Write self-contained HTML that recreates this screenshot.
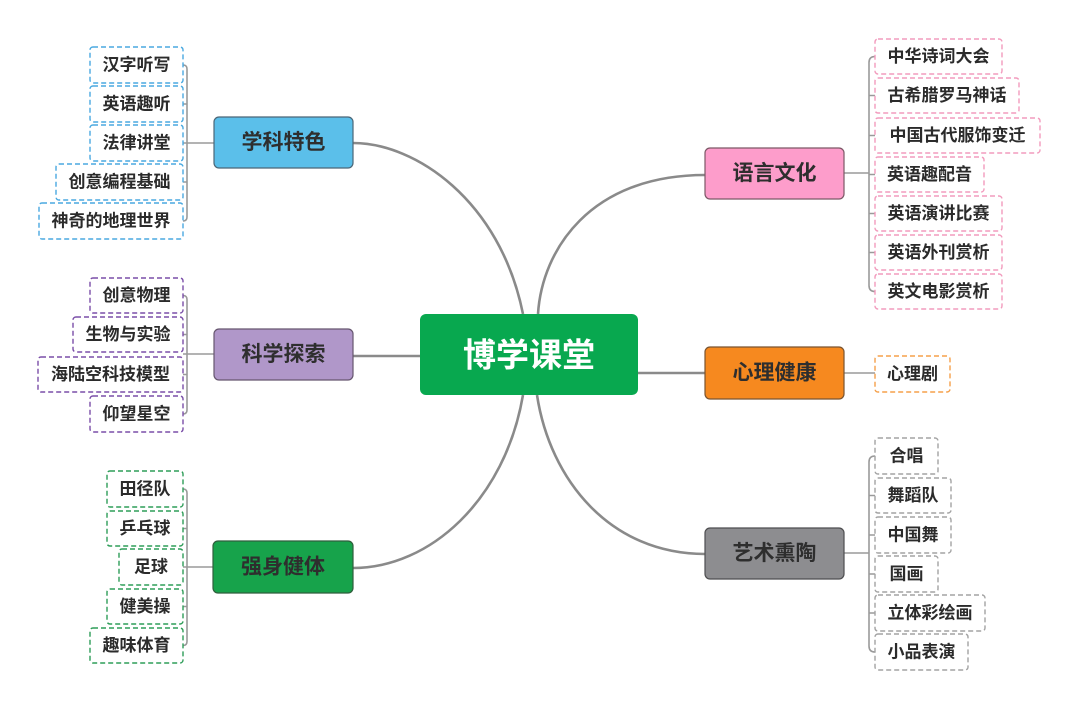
<!DOCTYPE html>
<html><head><meta charset="utf-8">
<style>
html,body{margin:0;padding:0;background:#fff;}
svg{display:block;}
text{font-family:"Liberation Sans","Noto Sans CJK SC",sans-serif;font-weight:bold;}
.s{font-size:17px;fill:#2b2b2b;}
.m{font-size:21px;fill:#2e2e2e;}
.ln{fill:none;stroke:#9a9a9a;stroke-width:1.6;}
.cv{fill:none;stroke:#8a8a8a;stroke-width:2.6;}
</style></head>
<body>
<svg width="1080" height="709" viewBox="0 0 1080 709" xmlns="http://www.w3.org/2000/svg">
<!-- main curves -->
<path class="cv" d="M353,143 C415,143 500,200 523,314"/>
<path class="cv" d="M705,175 C590,175 542,250 538,314"/>
<path class="cv" d="M523,395 C505,500 430,568 353,568"/>
<path class="cv" d="M537,395 C550,480 610,554 705,554"/>
<path class="cv" d="M353,356 L420,356"/>
<path class="cv" d="M638,373 L705,373"/>

<!-- left brackets -->
<path class="ln" d="M183,65 Q187,65 187,69 L187,217 Q187,221 183,221 M183,104 L187,104 M183,182 L187,182 M183,143 L214,143"/>
<path class="ln" d="M183,295.5 Q187,295.5 187,299.5 L187,410 Q187,414 183,414 M183,334.5 L187,334.5 M183,374.5 L187,374.5 M183,354 L214,354"/>
<path class="ln" d="M183,489 Q187,489 187,493 L187,641.5 Q187,645.5 183,645.5 M183,528.5 L187,528.5 M183,606.5 L187,606.5 M183,567 L213,567"/>
<!-- right brackets -->
<path class="ln" d="M875,56.5 Q869,56.5 869,62.5 L869,285.5 Q869,291.5 875,291.5 M869,95.5 L875,95.5 M869,135.5 L875,135.5 M869,174.5 L875,174.5 M869,213.5 L875,213.5 M869,252.5 L875,252.5 M844,173 L869,173"/>
<path class="ln" d="M844,373 L875,373"/>
<path class="ln" d="M875,456 Q869,456 869,462 L869,646 Q869,652 875,652 M869,495.5 L875,495.5 M869,535 L875,535 M869,574 L875,574 M869,613 L875,613 M844,553 L869,553"/>

<!-- center -->
<rect x="420" y="314" width="218" height="81" rx="6" fill="#08a84f"/>
<text x="529" y="355" text-anchor="middle" dominant-baseline="central" style="font-size:33px;fill:#fff;">博学课堂</text>

<!-- main nodes -->
<rect x="214" y="117" width="139" height="51" rx="5" fill="#5bbfea" stroke="#4b6677" stroke-width="1.2"/>
<text class="m" x="283.5" y="142.5" text-anchor="middle" dominant-baseline="central">学科特色</text>
<rect x="214" y="329" width="139" height="51" rx="5" fill="#b097c9" stroke="#66566f" stroke-width="1.2"/>
<text class="m" x="283.5" y="354.5" text-anchor="middle" dominant-baseline="central">科学探索</text>
<rect x="213" y="541" width="140" height="52" rx="5" fill="#17a34b" stroke="#2f5e3c" stroke-width="1.2"/>
<text class="m" x="283" y="567" text-anchor="middle" dominant-baseline="central">强身健体</text>
<rect x="705" y="148" width="139" height="51" rx="5" fill="#fd9dcb" stroke="#7c5866" stroke-width="1.2"/>
<text class="m" x="774.5" y="173.5" text-anchor="middle" dominant-baseline="central">语言文化</text>
<rect x="705" y="347" width="139" height="52" rx="5" fill="#f6891f" stroke="#7a5430" stroke-width="1.2"/>
<text class="m" x="774.5" y="373" text-anchor="middle" dominant-baseline="central">心理健康</text>
<rect x="705" y="528" width="139" height="51" rx="5" fill="#8d8d90" stroke="#4e4e50" stroke-width="1.2"/>
<text class="m" x="774.5" y="553.5" text-anchor="middle" dominant-baseline="central">艺术熏陶</text>

<!-- 学科特色 subs -->
<g fill="none" stroke="#4aa9e0" stroke-width="1.4" stroke-dasharray="5 3">
<rect x="90" y="47" width="93" height="36" rx="3"/>
<rect x="90" y="86" width="93" height="36" rx="3"/>
<rect x="90" y="125" width="93" height="36" rx="3"/>
<rect x="56" y="164" width="127" height="36" rx="3"/>
<rect x="39" y="203" width="144" height="36" rx="3"/>
</g>
<text class="s" x="136.5" y="65" text-anchor="middle" dominant-baseline="central">汉字听写</text>
<text class="s" x="136.5" y="104" text-anchor="middle" dominant-baseline="central">英语趣听</text>
<text class="s" x="136.5" y="143" text-anchor="middle" dominant-baseline="central">法律讲堂</text>
<text class="s" x="119.5" y="182" text-anchor="middle" dominant-baseline="central">创意编程基础</text>
<text class="s" x="111" y="221" text-anchor="middle" dominant-baseline="central">神奇的地理世界</text>

<!-- 科学探索 subs -->
<g fill="none" stroke="#7a4ea8" stroke-width="1.4" stroke-dasharray="5 3">
<rect x="90" y="278" width="93" height="35" rx="3"/>
<rect x="73" y="317" width="110" height="35" rx="3"/>
<rect x="38" y="357" width="145" height="35" rx="3"/>
<rect x="90" y="396" width="93" height="36" rx="3"/>
</g>
<text class="s" x="136.5" y="295.5" text-anchor="middle" dominant-baseline="central">创意物理</text>
<text class="s" x="128" y="334.5" text-anchor="middle" dominant-baseline="central">生物与实验</text>
<text class="s" x="110.5" y="374.5" text-anchor="middle" dominant-baseline="central">海陆空科技模型</text>
<text class="s" x="136.5" y="414" text-anchor="middle" dominant-baseline="central">仰望星空</text>

<!-- 强身健体 subs -->
<g fill="none" stroke="#2e9d58" stroke-width="1.4" stroke-dasharray="5 3">
<rect x="107" y="471" width="76" height="36" rx="3"/>
<rect x="107" y="511" width="76" height="35" rx="3"/>
<rect x="119" y="549" width="64" height="36" rx="3"/>
<rect x="107" y="589" width="76" height="35" rx="3"/>
<rect x="90" y="628" width="93" height="35" rx="3"/>
</g>
<text class="s" x="145" y="489" text-anchor="middle" dominant-baseline="central">田径队</text>
<text class="s" x="145" y="528.5" text-anchor="middle" dominant-baseline="central">乒乓球</text>
<text class="s" x="151" y="567" text-anchor="middle" dominant-baseline="central">足球</text>
<text class="s" x="145" y="606.5" text-anchor="middle" dominant-baseline="central">健美操</text>
<text class="s" x="136.5" y="645.5" text-anchor="middle" dominant-baseline="central">趣味体育</text>

<!-- 语言文化 subs -->
<g fill="none" stroke="#f29bbd" stroke-width="1.4" stroke-dasharray="5 3">
<rect x="875" y="39" width="127" height="35" rx="3"/>
<rect x="875" y="78" width="144" height="35" rx="3"/>
<rect x="875" y="118" width="165" height="35" rx="3"/>
<rect x="875" y="157" width="109" height="35" rx="3"/>
<rect x="875" y="196" width="127" height="35" rx="3"/>
<rect x="875" y="235" width="127" height="35" rx="3"/>
<rect x="875" y="274" width="127" height="35" rx="3"/>
</g>
<text class="s" x="938.5" y="56.5" text-anchor="middle" dominant-baseline="central">中华诗词大会</text>
<text class="s" x="947" y="95.5" text-anchor="middle" dominant-baseline="central">古希腊罗马神话</text>
<text class="s" x="957.5" y="135.5" text-anchor="middle" dominant-baseline="central">中国古代服饰变迁</text>
<text class="s" x="929.5" y="174.5" text-anchor="middle" dominant-baseline="central">英语趣配音</text>
<text class="s" x="938.5" y="213.5" text-anchor="middle" dominant-baseline="central">英语演讲比赛</text>
<text class="s" x="938.5" y="252.5" text-anchor="middle" dominant-baseline="central">英语外刊赏析</text>
<text class="s" x="938.5" y="291.5" text-anchor="middle" dominant-baseline="central">英文电影赏析</text>

<!-- 心理剧 -->
<rect x="875" y="356" width="75" height="36" rx="3" fill="none" stroke="#f5a04a" stroke-width="1.4" stroke-dasharray="5 3"/>
<text class="s" x="912.5" y="374" text-anchor="middle" dominant-baseline="central">心理剧</text>

<!-- 艺术熏陶 subs -->
<g fill="none" stroke="#a3a3a3" stroke-width="1.4" stroke-dasharray="5 3">
<rect x="875" y="438" width="63" height="36" rx="3"/>
<rect x="875" y="478" width="76" height="35" rx="3"/>
<rect x="875" y="517" width="76" height="36" rx="3"/>
<rect x="875" y="556" width="63" height="36" rx="3"/>
<rect x="875" y="595" width="110" height="36" rx="3"/>
<rect x="875" y="634" width="93" height="36" rx="3"/>
</g>
<text class="s" x="906.5" y="456" text-anchor="middle" dominant-baseline="central">合唱</text>
<text class="s" x="913" y="495.5" text-anchor="middle" dominant-baseline="central">舞蹈队</text>
<text class="s" x="913" y="535" text-anchor="middle" dominant-baseline="central">中国舞</text>
<text class="s" x="906.5" y="574" text-anchor="middle" dominant-baseline="central">国画</text>
<text class="s" x="930" y="613" text-anchor="middle" dominant-baseline="central">立体彩绘画</text>
<text class="s" x="921.5" y="652" text-anchor="middle" dominant-baseline="central">小品表演</text>
</svg>
</body></html>
